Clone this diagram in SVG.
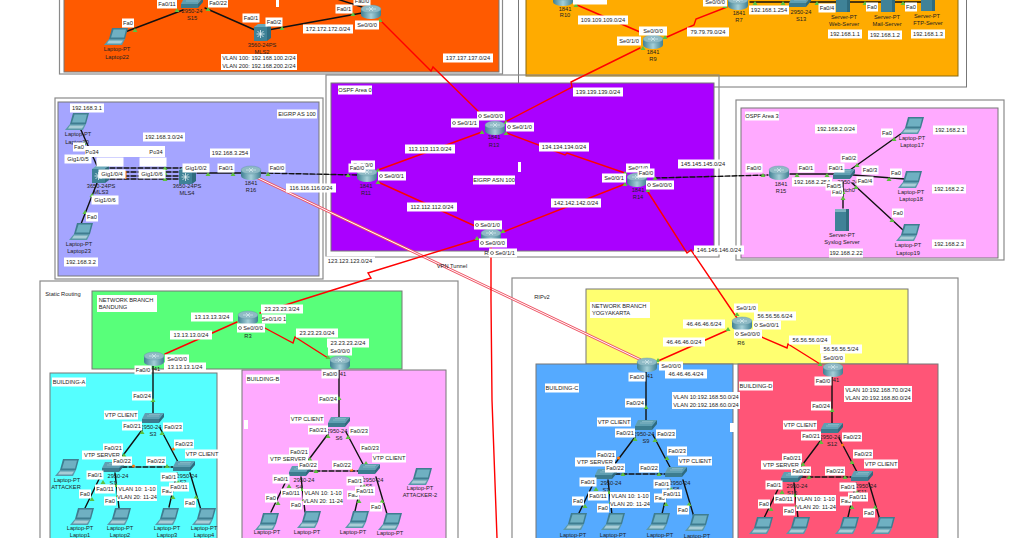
<svg xmlns="http://www.w3.org/2000/svg" width="1024" height="538" viewBox="0 0 1024 538">
<style>
text{font-family:"Liberation Sans",Arial,sans-serif;font-size:5.7px;fill:#222;text-anchor:middle}
.fr{fill:none;stroke:#8a8a8a;stroke-width:1.2}
.conn line,.conn polyline{fill:none;stroke-linecap:round}
.bk{stroke:#111;stroke-width:1.4}
.da{stroke:#111;stroke-width:1.4;stroke-dasharray:5 2}
.se{stroke:#f00;stroke-width:1.4}
.gl{fill:#5cc23e}
.og{fill:#ff7a10}
.ck{fill:none;stroke:#333;stroke-width:.6}
.lb{fill:#fff}
</style>
<defs>
<linearGradient id="rg" x1="0" x2="1" y1="0" y2="0"><stop offset="0" stop-color="#3f7f92"/><stop offset=".5" stop-color="#a5cfd8"/><stop offset="1" stop-color="#3f7f92"/></linearGradient>
<g id="rt"><path d="M-10-3v6a10 4 0 0 0 20 0v-6z" fill="url(#rg)"/><ellipse cy="-3" rx="10" ry="4" fill="#8fbac5" stroke="#5b95a5" stroke-width=".4"/><path d="M-5-3h10M-2-5l4 4M2-5l-4 4" stroke="#d8ecf0" stroke-width=".7" fill="none"/></g>
<g id="sw"><path d="M-8-5H11L6 1H-11z" fill="#5f9fb2"/><path d="M-11 1H6V5H-11z" fill="#3c7c8f"/><path d="M6 1L11-5V-1L6 5z" fill="#2f6b7e"/><path d="M-6-2H6M-4-3.500H7" stroke="#bcd9e0" stroke-width=".4"/></g>
<g id="ml"><path d="M-8-6H5V8H-8z" fill="#3f8297"/><path d="M-8-6L-4-9H9L5-6z" fill="#6aa8ba"/><path d="M5-6L9-9V5L5 8z" fill="#2f6b7e"/><path d="M-1.500-3V5M-5.500 1H2.500M-4.500-2L1.500 4M-4.500 4L1.500-2" stroke="#e4f1f4" stroke-width=".8"/></g>
<g id="lp"><path d="M-4-9H12L9 2H-7z" fill="#3f7d90"/><path d="M-2.500-7.500H10L8 .5H-5z" fill="#6fb0c2"/><path d="M-7 2H9L6 8H-12z" fill="#5a98aa"/><path d="M-7 3.500H7L5 6.500H-9z" fill="#a8cdd6"/></g>
<g id="sv"><path d="M-7-11H7V11H-7z" fill="#3f8297"/><path d="M-7-11H7V-8H-7z" fill="#7fb2c1"/><path d="M4-11H7V11H4z" fill="#2f6b7e"/></g>
<rect id="a" class="lb" x="-6" y="-4.500" width="12" height="9"/>
<rect id="b" class="lb" x="-8.500" y="-4.500" width="17" height="9"/>
<rect id="c" class="lb" x="-10" y="-4.500" width="20" height="9"/>
<rect id="d" class="lb" x="-12" y="-4.500" width="24" height="9"/>
<rect id="e" class="lb" x="-13.500" y="-4.500" width="27" height="9"/>
<rect id="f" class="lb" x="-17" y="-4.500" width="34" height="9"/>
<rect id="g" class="lb" x="-20" y="-4.500" width="40" height="9"/>
<rect id="h" class="lb" x="-21" y="-4.500" width="42" height="9"/>
<rect id="i" class="lb" x="-25" y="-4.500" width="50" height="9"/>
<rect id="k" class="lb" x="-14" y="-4.500" width="28" height="9"/>
</defs>
<rect width="1024" height="538" fill="#fff"/>

<g id="areas">
<rect class="fr" x="59.500" y="-5" width="443" height="79"/>
<rect x="64" y="-5" width="435" height="77" fill="#ff5a00" stroke="#777"/>
<rect x="518.500" y="-5" width="448" height="92" fill="none" stroke="#777"/>
<rect x="526" y="-5" width="432" height="81" fill="#ffab00" stroke="#8a6a10"/>
<rect class="fr" x="326" y="75" width="393" height="182"/>
<rect x="331" y="83" width="383" height="168" fill="#aa00ff" stroke="#777"/>
<rect class="fr" x="55" y="98" width="268" height="181"/>
<rect x="58" y="102" width="261" height="174" fill="#a5a5ff" stroke="#777"/>
<rect class="fr" x="736" y="100" width="268" height="160"/>
<rect x="741" y="108" width="257" height="150" fill="#ffaaff" stroke="#777"/>
<rect class="fr" x="40" y="281" width="418" height="270"/>
<rect x="92" y="291" width="310" height="78" fill="#58ff7a" stroke="#777"/>
<rect x="50" y="373" width="167" height="180" fill="#55ffff" stroke="#777"/>
<rect x="242" y="370" width="204" height="180" fill="#ffaaff" stroke="#777"/>
<rect class="fr" x="512" y="278" width="446" height="270"/>
<rect x="586" y="289" width="322" height="75" fill="#ffff70" stroke="#777"/>
<rect x="536" y="364" width="197" height="190" fill="#55aaff" stroke="#777"/>
<rect x="738" y="364" width="200" height="190" fill="#ff5577" stroke="#777"/>
<rect class="lb" x="276" y="-1" width="3" height="8"/>
<rect class="lb" x="518" y="162" width="3" height="10"/>
<rect class="lb" x="244" y="420" width="4" height="9"/>
<rect class="lb" x="730" y="423" width="4" height="9"/>
</g>

<g id="connectors" class="conn">
<line class="bk" x1="125" y1="32" x2="183" y2="10"/>
<line class="bk" x1="205" y1="8" x2="255" y2="30"/>
<line class="bk" x1="268" y1="30" x2="362" y2="13"/>
<line class="bk" x1="337" y1="-1" x2="362" y2="7"/>
<polyline class="se" points="380,20 431,71 433,67 480,113"/>
<polyline class="se" points="505,122 572,87 571,82 640,48"/>
<line class="se" x1="640" y1="32" x2="577" y2="5"/>
<polyline class="se" points="667,37 694,25 696,19 727,7"/>
<line class="bk" x1="750" y1="2" x2="790" y2="2"/>
<line class="bk" x1="810" y1="2" x2="925" y2="2"/>
<line class="bk" x1="81" y1="130" x2="98" y2="168"/>
<line class="bk" x1="97" y1="183" x2="81" y2="224"/>
<line class="da" x1="103" y1="168" x2="182" y2="168"/>
<line class="da" x1="103" y1="172" x2="182" y2="172"/>
<line class="da" x1="103" y1="176" x2="182" y2="176"/>
<line class="da" x1="103" y1="179" x2="182" y2="179"/>
<line class="bk" x1="197" y1="173" x2="241" y2="173"/>
<line class="da" x1="261" y1="173" x2="358" y2="175"/>
<line x1="257" y1="177.500" x2="640" y2="359.500" stroke="#ee5566" stroke-width="2.800"/>
<line x1="257" y1="177.500" x2="640" y2="359.500" stroke="#fff" stroke-width="1"/>
<line class="se" x1="378" y1="170" x2="482" y2="132"/>
<polyline class="se" points="507,133 565,155 567,153 625,173"/>
<line class="se" x1="378" y1="182" x2="475" y2="226"/>
<line class="se" x1="503" y1="232" x2="625" y2="184"/>
<polyline class="se" points="478,239 368,273 371,278 260,313"/>
<polyline class="se" points="491,245 491,300 492,400 497,538"/>
<polyline class="se" points="648,192 687,253 691,250 737,318"/>
<line class="da" x1="655" y1="178" x2="768" y2="175"/>
<line class="bk" x1="790" y1="174" x2="835" y2="174"/>
<line class="bk" x1="850" y1="170" x2="902" y2="133"/>
<line class="bk" x1="853" y1="175" x2="905" y2="179"/>
<line class="bk" x1="852" y1="183" x2="903" y2="230"/>
<line class="bk" x1="843" y1="182" x2="843" y2="208"/>
<line class="se" x1="165" y1="354" x2="237" y2="322"/>
<polyline class="se" points="263,327 293,343 295,337 328,358"/>
<line class="se" x1="658" y1="361" x2="728" y2="330"/>
<polyline class="se" points="750,332 787,348 788,344 820,364"/>
<line class="bk" x1="153" y1="366" x2="153" y2="413"/>
<line class="bk" x1="339" y1="370" x2="339" y2="417"/>
<line class="bk" x1="646" y1="372" x2="646" y2="420"/>
<line class="bk" x1="832" y1="377" x2="832" y2="423"/>
<line class="bk" x1="142" y1="430" x2="118" y2="462"/><line class="bk" x1="160" y1="428" x2="178" y2="462"/><line class="da" x1="122" y1="467" x2="173" y2="467"/><line class="bk" x1="102" y1="473" x2="85" y2="508"/><line class="bk" x1="115" y1="473" x2="119" y2="508"/><line class="bk" x1="177" y1="473" x2="169" y2="507"/><line class="bk" x1="190" y1="473" x2="201" y2="510"/>
<line class="bk" x1="328" y1="434" x2="304" y2="466"/><line class="bk" x1="346" y1="432" x2="364" y2="466"/><line class="da" x1="308" y1="471" x2="359" y2="471"/><line class="bk" x1="288" y1="477" x2="271" y2="512"/><line class="bk" x1="301" y1="477" x2="305" y2="512"/><line class="bk" x1="363" y1="477" x2="355" y2="511"/><line class="bk" x1="376" y1="477" x2="387" y2="514"/>
<line class="bk" x1="635" y1="437" x2="611" y2="469"/><line class="bk" x1="653" y1="435" x2="671" y2="469"/><line class="da" x1="615" y1="474" x2="666" y2="474"/><line class="bk" x1="595" y1="480" x2="578" y2="515"/><line class="bk" x1="608" y1="480" x2="612" y2="515"/><line class="bk" x1="670" y1="480" x2="662" y2="514"/><line class="bk" x1="683" y1="480" x2="694" y2="517"/>
<line class="bk" x1="821" y1="440" x2="797" y2="472"/><line class="bk" x1="839" y1="438" x2="857" y2="472"/><line class="da" x1="801" y1="477" x2="852" y2="477"/><line class="bk" x1="781" y1="483" x2="764" y2="518"/><line class="bk" x1="794" y1="483" x2="798" y2="518"/><line class="bk" x1="856" y1="483" x2="848" y2="517"/><line class="bk" x1="869" y1="483" x2="880" y2="520"/>
<path class="gl" d="M135 28l2.500 4h-5zM177 8l2.500 4h-5zM208 7l2.500 4h-5zM282 26l2.500 4h-5zM353 12l2.500 4h-5zM380 18l2.500 4h-5zM262 26l2.500 4h-5zM576 3l2.500 4h-5zM643 46l2.500 4h-5zM665 35l2.500 4h-5zM725 4l2.500 4h-5zM755 1l2.500 4h-5zM783 1l2.500 4h-5zM817 1l2.500 4h-5zM865 1l2.500 4h-5zM903 1l2.500 4h-5zM84 141l2.500 4h-5zM92 193l2.500 4h-5zM85 210l2.500 4h-5zM165 166l2.500 4h-5zM165 171l2.500 4h-5zM165 177l2.500 4h-5zM208 172l2.500 4h-5zM233 172l2.500 4h-5zM268 172l2.500 4h-5zM348 173l2.500 4h-5zM378 168l2.500 4h-5zM378 180l2.500 4h-5zM482 130l2.500 4h-5zM506 120l2.500 4h-5zM506 131l2.500 4h-5zM625 171l2.500 4h-5zM625 182l2.500 4h-5zM655 176l2.500 4h-5zM648 188l2.500 4h-5zM477 236l2.500 4h-5zM476 224l2.500 4h-5zM503 229l2.500 4h-5zM763 173l2.500 4h-5zM797 173l2.500 4h-5zM827 173l2.500 4h-5zM857 163l2.500 4h-5zM894 137l2.500 4h-5zM889 177l2.500 4h-5zM856 185l2.500 4h-5zM892 218l2.500 4h-5zM843 190l2.500 4h-5zM843 196l2.500 4h-5zM737 312l2.500 4h-5zM728 327l2.500 4h-5zM658 358l2.500 4h-5zM820 362l2.500 4h-5zM328 355l2.500 4h-5zM153 398l2.500 4h-5zM339 396l2.500 4h-5zM646 405l2.500 4h-5zM832 408l2.500 4h-5z"/>
<path class="gl" d="M142 430l2.500 4h-5zM162 431l2.500 4h-5zM124 453l2.500 4h-5zM167 464l2.500 4h-5zM103 480l2.500 4h-5zM92 497l2.500 4h-5zM116 483l2.500 4h-5zM118 493l2.500 4h-5zM173 495l2.500 4h-5zM178 480l2.500 4h-5zM196 495l2.500 4h-5z"/>
<path class="gl" d="M328 434l2.500 4h-5zM348 435l2.500 4h-5zM310 457l2.500 4h-5zM316 469l2.500 4h-5zM366 461l2.500 4h-5zM289 484l2.500 4h-5zM278 501l2.500 4h-5zM302 487l2.500 4h-5zM304 497l2.500 4h-5zM359 499l2.500 4h-5zM364 484l2.500 4h-5zM382 499l2.500 4h-5z"/>
<path class="gl" d="M635 437l2.500 4h-5zM655 438l2.500 4h-5zM623 472l2.500 4h-5zM659 472l2.500 4h-5zM667 456l2.500 4h-5zM596 487l2.500 4h-5zM585 504l2.500 4h-5zM609 490l2.500 4h-5zM611 500l2.500 4h-5zM666 502l2.500 4h-5zM671 487l2.500 4h-5zM689 502l2.500 4h-5z"/>
<path class="gl" d="M821 440l2.500 4h-5zM803 462l2.500 4h-5zM809 475l2.500 4h-5zM845 475l2.500 4h-5zM852 460l2.500 4h-5zM782 490l2.500 4h-5zM771 507l2.500 4h-5zM795 493l2.500 4h-5zM797 503l2.500 4h-5zM852 505l2.500 4h-5zM857 490l2.500 4h-5zM875 505l2.500 4h-5z"/>
<path class="og" d="M125 171h1.500v8h-1.500zM172 449a1.500 1.500 0 1 0 3 0a1.500 1.500 0 1 0-3 0M132 466a1.500 1.500 0 1 0 3 0a1.500 1.500 0 1 0-3 0M350 470a1.500 1.500 0 1 0 3 0a1.500 1.500 0 1 0-3 0M617 458a1.500 1.500 0 1 0 3 0a1.500 1.500 0 1 0-3 0M841 445a1.500 1.500 0 1 0 3 0a1.500 1.500 0 1 0-3 0"/>
</g>

<g id="nodes">
<g id="Laptop22"><use href="#lp" x="116" y="37"/><text x="117" y="51">Laptop-PT</text><text x="117" y="59">Laptop22</text></g>
<g id="S15"><use href="#sw" x="192" y="3"/><text x="192" y="13">2950-24</text><text x="192" y="20">S15</text></g>
<g id="MLS2"><use href="#ml" x="262" y="33"/><text x="262" y="47">3560-24PS</text><text x="262" y="54">MLS2</text></g>
<g id="R12"><use href="#rt" x="371" y="12"/></g>
<g id="R10"><use href="#rt" x="563" y="-1"/><text x="565" y="11">1841</text><text x="565" y="17">R10</text></g>
<g id="R9"><use href="#rt" x="653" y="42"/><text x="653" y="54">1841</text><text x="653" y="61">R9</text></g>
<g id="R7"><use href="#rt" x="738" y="3"/><text x="739" y="15">1841</text><text x="739" y="22">R7</text></g>
<g id="S13"><use href="#sw" x="800" y="2"/><text x="801" y="14">2950-24</text><text x="801" y="21">S13</text></g>
<g id="Web-Server"><use href="#sv" x="843" y="1"/><text x="844" y="19">Server-PT</text><text x="844" y="26">Web-Server</text></g>
<g id="Mail-Server"><use href="#sv" x="888" y="1"/><text x="887" y="19">Server-PT</text><text x="887" y="26">Mail-Server</text></g>
<g id="FTP-Server"><use href="#sv" x="928" y="0"/><text x="927" y="18">Server-PT</text><text x="928" y="25">FTP-Server</text></g>
<g id="Laptop20"><use href="#lp" x="77" y="122"/><text x="78" y="136">Laptop-PT</text><text x="77" y="144">Laptop20</text></g>
<g id="MLS3"><use href="#ml" x="100" y="175"/><text x="101" y="188">3650-24PS</text><text x="101" y="194">MLS3</text></g>
<g id="MLS4"><use href="#ml" x="187" y="176"/><text x="187" y="188">3650-24PS</text><text x="187" y="195">MLS4</text></g>
<g id="R16"><use href="#rt" x="251" y="173"/><text x="251" y="185">1841</text><text x="251" y="192">R16</text></g>
<g id="Laptop23"><use href="#lp" x="81" y="232"/><text x="79" y="246">Laptop-PT</text><text x="79" y="253">Laptop23</text></g>
<g id="R11"><use href="#rt" x="367" y="175"/><text x="366" y="188">1841</text><text x="366" y="195">R11</text></g>
<g id="R13"><use href="#rt" x="495" y="128"/><text x="494" y="139">1841</text><text x="494" y="147">R13</text></g>
<g id="R14"><use href="#rt" x="637" y="180"/><text x="638" y="192">1841</text><text x="638" y="199">R14</text></g>
<g id="R5"><use href="#rt" x="491" y="236"/><text x="488" y="255">R5</text></g>
<g id="R15"><use href="#rt" x="779" y="173"/><text x="781" y="186">1841</text><text x="781" y="193">R15</text></g>
<g id="Switch0"><use href="#sw" x="844" y="174"/><text x="848" y="184">2950-24</text><text x="845" y="192">Switch0</text></g>
<g id="Laptop17"><use href="#lp" x="912" y="126"/><text x="912" y="140">Laptop-PT</text><text x="912" y="147">Laptop17</text></g>
<g id="Laptop18"><use href="#lp" x="910" y="180"/><text x="911" y="194">Laptop-PT</text><text x="911" y="201">Laptop18</text></g>
<g id="Laptop19"><use href="#lp" x="908" y="233"/><text x="908" y="247">Laptop-PT</text><text x="908" y="255">Laptop19</text></g>
<g id="Syslog"><use href="#sv" x="842" y="220"/><text x="842" y="237">Server-PT</text><text x="842" y="244">Syslog Server</text></g>
<g id="R3"><use href="#rt" x="248" y="318"/><text x="248" y="338">R3</text></g>
<g id="R1"><use href="#rt" x="154" y="359"/><text x="157" y="371">41</text></g>
<g id="R2"><use href="#rt" x="340" y="363"/><text x="343" y="376">41</text></g>
<g id="R6"><use href="#rt" x="742" y="324"/><text x="741" y="345">R6</text></g>
<g id="R4"><use href="#rt" x="647" y="365"/><text x="650" y="378">41</text></g>
<g id="R8"><use href="#rt" x="833" y="370"/><text x="836" y="382">41</text></g>

<g id="S3"><use href="#sw" x="153" y="418"/><text x="151" y="429">2950-24</text><text x="153" y="436">S3</text></g>
<g id="S1"><use href="#sw" x="113" y="467"/><text x="118" y="478">2950-24</text><text x="113" y="485">S1</text></g>
<g id="S2"><use href="#sw" x="184" y="466"/><text x="187" y="478">2950-24</text><text x="183" y="484">S2</text></g>
<g id="ATTACKER"><use href="#lp" x="67" y="468"/><text x="67" y="482">Laptop-PT</text><text x="66" y="489">ATTACKER</text></g>
<g id="Laptop1"><use href="#lp" x="82" y="517"/><text x="80" y="530">Laptop-PT</text><text x="80" y="537">Laptop1</text></g>
<g id="Laptop2"><use href="#lp" x="119" y="517"/><text x="120" y="530">Laptop-PT</text><text x="120" y="537">Laptop2</text></g>
<g id="Laptop3"><use href="#lp" x="167" y="517"/><text x="167" y="530">Laptop-PT</text><text x="167" y="537">Laptop3</text></g>
<g id="Laptop4"><use href="#lp" x="204" y="517"/><text x="204" y="530">Laptop-PT</text><text x="204" y="537">Laptop4</text></g>

<g id="S6"><use href="#sw" x="339" y="422"/><text x="337" y="433">2950-24</text><text x="339" y="440">S6</text></g>
<g id="S4"><use href="#sw" x="300" y="471"/><text x="304" y="482">2950-24</text><text x="299" y="489">S4</text></g>
<g id="S5"><use href="#sw" x="369" y="469"/><text x="373" y="482">2950-24</text><text x="369" y="488">S5</text></g>
<g id="ATTACKER-2"><use href="#lp" x="420" y="477"/><text x="420" y="490">Laptop-PT</text><text x="420" y="497">ATTACKER-2</text></g>
<g id="Laptop5"><use href="#lp" x="267" y="522"/><text x="267" y="534">Laptop-PT</text></g>
<g id="Laptop6"><use href="#lp" x="309" y="520"/><text x="307" y="534">Laptop-PT</text></g>
<g id="Laptop7"><use href="#lp" x="357" y="520"/><text x="353" y="534">Laptop-PT</text></g>
<g id="Laptop8"><use href="#lp" x="390" y="522"/><text x="390" y="535">Laptop-PT</text></g>

<g id="S9"><use href="#sw" x="646" y="425"/><text x="644" y="436">2950-24</text><text x="646" y="443">S9</text></g>
<g id="S7"><use href="#sw" x="606" y="474"/><text x="611" y="485">2950-24</text><text x="606" y="492">S7</text></g>
<g id="S8"><use href="#sw" x="676" y="472"/><text x="680" y="485">2950-24</text><text x="676" y="491">S8</text></g>
<g id="Laptop9"><use href="#lp" x="575" y="522"/><text x="573" y="537">Laptop-PT</text></g>
<g id="Laptop10"><use href="#lp" x="613" y="522"/><text x="613" y="537">Laptop-PT</text></g>
<g id="Laptop11"><use href="#lp" x="658" y="522"/><text x="660" y="537">Laptop-PT</text></g>
<g id="Laptop12"><use href="#lp" x="697" y="523"/><text x="697" y="538">Laptop-PT</text></g>

<g id="S12"><use href="#sw" x="832" y="428"/><text x="830" y="439">2950-24</text><text x="832" y="446">S12</text></g>
<g id="S10"><use href="#sw" x="792" y="477"/><text x="797" y="488">2950-24</text><text x="792" y="495">S10</text></g>
<g id="S11"><use href="#sw" x="862" y="476"/><text x="866" y="488">2950-24</text><text x="862" y="494">S11</text></g>
<g id="Laptop13"><use href="#lp" x="761" y="526"/></g>
<g id="Laptop14"><use href="#lp" x="798" y="526"/></g>
<g id="Laptop15"><use href="#lp" x="847" y="526"/></g>
<g id="Laptop16"><use href="#lp" x="883" y="526"/></g>
</g>

<g id="labels">
<g transform="translate(128 23)"><use href="#a"/><text y="2">Fa0</text></g>
<g transform="translate(167 4)"><use href="#c"/><text y="2">Fa0/11</text></g>
<g transform="translate(218 3)"><use href="#c"/><text y="2">Fa0/22</text></g>
<g transform="translate(251 18)"><use href="#b"/><text y="2">Fa0/1</text></g>
<g transform="translate(274 22)"><use href="#b"/><text y="2">Fa0/2</text></g>
<g transform="translate(328 29)"><use href="#i"/><text y="2">172.172.172.0/24</text></g>
<g transform="translate(362 1)"><use href="#b"/><text y="2">Fa0/0</text></g>
<g transform="translate(344 9)"><use href="#b"/><text y="2">Fa0/1</text></g>
<g transform="translate(367 25)"><use href="#d"/><text y="2">Se0/0/0</text></g>
<g transform="translate(259 62)"><rect class="lb" x="-38" y="-8" width="76" height="16"/><text y="-2">VLAN 100: 192.168.100.2/24</text><text y="6">VLAN 200: 192.168.200.2/24</text></g>
<g transform="translate(468 58)"><use href="#i"/><text y="2">137.137.137.0/24</text></g>
<g transform="translate(603 20)"><use href="#i"/><text y="2">109.109.109.0/24</text></g>
<g transform="translate(590 0)"><use href="#f"/></g>
<g transform="translate(653 31)"><use href="#k"/><text y="2">Se0/0/0</text></g>
<g transform="translate(629 41)"><use href="#d"/><text y="2">Se0/1/0</text></g>
<g transform="translate(708 32)"><use href="#h"/><text y="2">79.79.79.0/24</text></g>
<g transform="translate(715 2)"><use href="#d"/><text y="2">Se0/0/0</text></g>
<g transform="translate(769 10)"><use href="#g"/><text y="2">192.168.1.254</text></g>
<g transform="translate(827 8)"><use href="#b"/><text y="2">Fa0/4</text></g>
<g transform="translate(872 7)"><use href="#a"/><text y="2">Fa0</text></g>
<g transform="translate(911 7)"><use href="#a"/><text y="2">Fa0</text></g>
<g transform="translate(845 34)"><use href="#f"/><text y="2">192.168.1.1</text></g>
<g transform="translate(885 35)"><use href="#f"/><text y="2">192.168.1.2</text></g>
<g transform="translate(928 34)"><use href="#f"/><text y="2">192.168.1.3</text></g>

<g transform="translate(87 108)"><use href="#f"/><text y="2">192.168.3.1</text></g>
<g transform="translate(164 137)"><use href="#h"/><text y="2">192.168.3.0/24</text></g>
<g transform="translate(297 114)"><use href="#g"/><text y="2">EIGRP AS 100</text></g>
<g transform="translate(125 151.500)"><rect class="lb" x="-40" y="-5.500" width="80" height="11"/><text x="-33" y="2">Po34</text><text x="31" y="2">Po34</text></g>
<g transform="translate(79 147)"><use href="#a"/><text y="2">Fa0</text></g>
<g transform="translate(78 159)"><use href="#e"/><text y="2">Gig1/0/5</text></g>
<g transform="translate(110 162)"><use href="#e"/></g>
<g transform="translate(153 162)"><use href="#e"/></g>
<g transform="translate(112 174)"><use href="#e"/><text y="2">Gig1/0/4</text></g>
<g transform="translate(152 174)"><use href="#e"/><text y="2">Gig1/0/6</text></g>
<g transform="translate(196 168)"><use href="#e"/><text y="2">Gig1/0/2</text></g>
<g transform="translate(226 168)"><use href="#b"/><text y="2">Fa0/1</text></g>
<g transform="translate(277 168)"><use href="#b"/><text y="2">Fa0/0</text></g>
<g transform="translate(230 153)"><use href="#g"/><text y="2">192.168.3.254</text></g>
<g transform="translate(105 200)"><use href="#e"/><text y="2">Gig1/0/6</text></g>
<g transform="translate(92 217)"><use href="#a"/><text y="2">Fa0</text></g>
<g transform="translate(81 262)"><use href="#f"/><text y="2">192.168.3.2</text></g>
<g transform="translate(311 188)"><use href="#i"/><text y="2">116.116.116.0/24</text></g>

<g transform="translate(355 90)"><use href="#f"/><text y="2">OSPF Area 0</text></g>
<g transform="translate(494 180)"><use href="#h"/><text y="2">EIGRP ASN 100</text></g>
<g transform="translate(491 116)"><use href="#k"/><circle class="ck" cx="-11" r="1.500"/><text x="2" y="2">Se0/0/0</text></g>
<g transform="translate(465 123)"><use href="#k"/><circle class="ck" cx="-11" r="1.500"/><text x="2" y="2">Se0/1/1</text></g>
<g transform="translate(520 127)"><use href="#k"/><circle class="ck" cx="-11" r="1.500"/><text x="2" y="2">Se0/1/0</text></g>
<g transform="translate(430 149)"><use href="#i"/><text y="2">113.113.113.0/24</text></g>
<g transform="translate(564 147)"><use href="#i"/><text y="2">134.134.134.0/24</text></g>
<g transform="translate(598 92)"><use href="#i"/><text y="2">139.139.139.0/24</text></g>
<g transform="translate(363 165)"><use href="#d"/><text y="2">Se0/0/0</text></g>
<g transform="translate(357 168)"><use href="#b"/><text y="2">Fa0/0</text></g>
<g transform="translate(392 176)"><use href="#k"/><circle class="ck" cx="-11" r="1.500"/><text x="2" y="2">Se0/0/1</text></g>
<g transform="translate(432 207)"><use href="#i"/><text y="2">112.112.112.0/24</text></g>
<g transform="translate(576 203)"><use href="#i"/><text y="2">142.142.142.0/24</text></g>
<g transform="translate(638 168)"><use href="#d"/><text y="2">Se0/1/0</text></g>
<g transform="translate(646 173)"><use href="#b"/><text y="2">Fa0/0</text></g>
<g transform="translate(614 178)"><use href="#d"/><text y="2">Se0/0/1</text></g>
<g transform="translate(660 185)"><use href="#k"/><circle class="ck" cx="-11" r="1.500"/><text x="2" y="2">Se0/0/0</text></g>
<g transform="translate(703 164)"><use href="#i"/><text y="2">145.145.145.0/24</text></g>
<g transform="translate(719 250)"><use href="#i"/><text y="2">146.146.146.0/24</text></g>
<g transform="translate(488 225)"><use href="#k"/><circle class="ck" cx="-11" r="1.500"/><text x="2" y="2">Se0/1/0</text></g>
<g transform="translate(493 243)"><use href="#k"/><circle class="ck" cx="-11" r="1.500"/><text x="2" y="2">Se0/0/0</text></g>
<g transform="translate(503 253)"><use href="#k"/><circle class="ck" cx="-11" r="1.500"/><text x="2" y="2">Se0/1/1</text></g>
<g transform="translate(350 261)"><use href="#i"/><text y="2">123.123.123.0/24</text></g>
<text x="452" y="268">VPN Tunnel</text>

<g transform="translate(762 116)"><use href="#f"/><text y="2">OSPF Area 3</text></g>
<g transform="translate(836 129)"><use href="#h"/><text y="2">192.168.2.0/24</text></g>
<g transform="translate(950 130)"><use href="#f"/><text y="2">192.168.2.1</text></g>
<g transform="translate(949 189)"><use href="#f"/><text y="2">192.168.2.2</text></g>
<g transform="translate(949 244)"><use href="#f"/><text y="2">192.168.2.3</text></g>
<g transform="translate(846 253)"><use href="#f"/><text y="2">192.168.2.22</text></g>
<g transform="translate(754 168)"><use href="#b"/><text y="2">Fa0/0</text></g>
<g transform="translate(806 168)"><use href="#b"/><text y="2">Fa0/1</text></g>
<g transform="translate(812 182)"><use href="#g"/><text y="2">192.168.2.254</text></g>
<g transform="translate(836 168)"><use href="#b"/><text y="2">Fa0/1</text></g>
<g transform="translate(837 192)"><use href="#a"/><text y="2">Fa0</text></g>
<g transform="translate(834 186)"><use href="#b"/><text y="2">Fa0/5</text></g>
<g transform="translate(849 158)"><use href="#b"/><text y="2">Fa0/2</text></g>
<g transform="translate(870 170)"><use href="#b"/><text y="2">Fa0/3</text></g>
<g transform="translate(865 181)"><use href="#b"/><text y="2">Fa0/4</text></g>
<g transform="translate(887 133)"><use href="#a"/><text y="2">Fa0</text></g>
<g transform="translate(896 173)"><use href="#a"/><text y="2">Fa0</text></g>
<g transform="translate(898 213)"><use href="#a"/><text y="2">Fa0</text></g>

<text x="63" y="296">Static Routing</text>
<g transform="translate(127 303.500)"><rect class="lb" x="-30" y="-8.500" width="60" height="17"/><text x="-1" y="-1.500">NETWORK BRANCH</text><text x="-14" y="5.500">BANDUNG</text></g>
<g transform="translate(212 317)"><use href="#h"/><text y="2">13.13.13.3/24</text></g>
<g transform="translate(282 309)"><use href="#h"/><text y="2">23.23.23.3/24</text></g>
<g transform="translate(274 319)"><use href="#d"/><text y="2">Se0/1/0 1</text></g>
<g transform="translate(251 328)"><use href="#k"/><circle class="ck" cx="-11" r="1.500"/><text x="2" y="2">Se0/0/0</text></g>
<g transform="translate(191 335)"><use href="#h"/><text y="2">13.13.13.0/24</text></g>
<g transform="translate(317 333)"><use href="#h"/><text y="2">23.23.23.0/24</text></g>
<g transform="translate(348 343)"><use href="#h"/><text y="2">23.23.23.2/24</text></g>
<g transform="translate(340 351)"><use href="#d"/><text y="2">Se0/0/0</text></g>
<g transform="translate(177 359)"><use href="#d"/><text y="2">Se0/0/0</text></g>
<g transform="translate(185 367)"><use href="#h"/><text y="2">13.13.13.1/24</text></g>
<g transform="translate(143 370)"><use href="#b"/><text y="2">Fa0/0</text></g>
<g transform="translate(330 374)"><use href="#b"/><text y="2">Fa0/0</text></g>
<g transform="translate(69 382)"><use href="#f"/><text y="2">BUILDING-A</text></g>
<g transform="translate(263 379)"><use href="#f"/><text y="2">BUILDING-B</text></g>

<g transform="translate(142 396)"><use href="#c"/><text y="2">Fa0/24</text></g>
<g transform="translate(121 415)"><use href="#f"/><text y="2">VTP CLIENT</text></g>
<g transform="translate(132 426)"><use href="#c"/><text y="2">Fa0/21</text></g>
<g transform="translate(173 427)"><use href="#c"/><text y="2">Fa0/23</text></g>
<g transform="translate(184 444)"><use href="#c"/><text y="2">Fa0/23</text></g>
<g transform="translate(202 454)"><use href="#f"/><text y="2">VTP CLIENT</text></g>
<g transform="translate(102 455)"><use href="#g"/><text y="2">VTP SERVER</text></g>
<g transform="translate(113 448)"><use href="#c"/><text y="2">Fa0/21</text></g>
<g transform="translate(122 461)"><use href="#c"/><text y="2">Fa0/22</text></g>
<g transform="translate(156 461)"><use href="#c"/><text y="2">Fa0/22</text></g>
<g transform="translate(95 475)"><use href="#b"/><text y="2">Fa0/1</text></g>
<g transform="translate(169 477)"><use href="#b"/><text y="2">Fa0/1</text></g>
<g transform="translate(105 489)"><use href="#c"/><text y="2">Fa0/11</text></g>
<g transform="translate(167 491)"><use href="#a"/><text y="2">Fa0</text></g>
<g transform="translate(179 487)"><use href="#c"/><text y="2">Fa0/11</text></g>
<g transform="translate(85 494)"><use href="#a"/><text y="2">Fa0</text></g>
<g transform="translate(110 501)"><use href="#a"/><text y="2">Fa0</text></g>
<g transform="translate(190 503)"><use href="#a"/><text y="2">Fa0</text></g>
<g transform="translate(137 493)"><rect class="lb" x="-20" y="-8" width="40" height="16"/><text y="-2">VLAN 10: 1-10</text><text y="6">VLAN 20: 11-24</text></g>

<g transform="translate(328 399)"><use href="#c"/><text y="2">Fa0/24</text></g>
<g transform="translate(307 419)"><use href="#f"/><text y="2">VTP CLIENT</text></g>
<g transform="translate(318 430)"><use href="#c"/><text y="2">Fa0/21</text></g>
<g transform="translate(359 431)"><use href="#c"/><text y="2">Fa0/23</text></g>
<g transform="translate(370 448)"><use href="#c"/><text y="2">Fa0/23</text></g>
<g transform="translate(389 458)"><use href="#f"/><text y="2">VTP CLIENT</text></g>
<g transform="translate(288 459)"><use href="#g"/><text y="2">VTP SERVER</text></g>
<g transform="translate(299 452)"><use href="#c"/><text y="2">Fa0/21</text></g>
<g transform="translate(308 465)"><use href="#c"/><text y="2">Fa0/22</text></g>
<g transform="translate(342 465)"><use href="#c"/><text y="2">Fa0/22</text></g>
<g transform="translate(281 479)"><use href="#b"/><text y="2">Fa0/1</text></g>
<g transform="translate(355 481)"><use href="#b"/><text y="2">Fa0/1</text></g>
<g transform="translate(291 493)"><use href="#c"/><text y="2">Fa0/11</text></g>
<g transform="translate(353 495)"><use href="#a"/><text y="2">Fa0</text></g>
<g transform="translate(365 491)"><use href="#c"/><text y="2">Fa0/11</text></g>
<g transform="translate(271 498)"><use href="#a"/><text y="2">Fa0</text></g>
<g transform="translate(296 505)"><use href="#a"/><text y="2">Fa0</text></g>
<g transform="translate(376 507)"><use href="#a"/><text y="2">Fa0</text></g>
<g transform="translate(323 497)"><rect class="lb" x="-20" y="-8" width="40" height="16"/><text y="-2">VLAN 10: 1-10</text><text y="6">VLAN 20: 11-24</text></g>

<text x="542" y="299">RIPv2</text>
<g transform="translate(620 310)"><rect class="lb" x="-30" y="-8" width="60" height="16"/><text x="-1" y="-2">NETWORK BRANCH</text><text x="-9" y="5">YOGYAKARTA</text></g>
<g transform="translate(746 308)"><use href="#d"/><text y="2">Se0/1/0</text></g>
<g transform="translate(775 316)"><use href="#h"/><text y="2">56.56.56.6/24</text></g>
<g transform="translate(767 325)"><use href="#k"/><circle class="ck" cx="-11" r="1.500"/><text x="2" y="2">Se0/0/1</text></g>
<g transform="translate(748 334)"><use href="#k"/><circle class="ck" cx="-11" r="1.500"/><text x="2" y="2">Se0/0/0</text></g>
<g transform="translate(704 324)"><use href="#h"/><text y="2">46.46.46.6/24</text></g>
<g transform="translate(684 342)"><use href="#h"/><text y="2">46.46.46.0/24</text></g>
<g transform="translate(810 340)"><use href="#h"/><text y="2">56.56.56.0/24</text></g>
<g transform="translate(841 349)"><use href="#h"/><text y="2">56.56.56.5/24</text></g>
<g transform="translate(833 358)"><use href="#d"/><text y="2">Se0/0/0</text></g>
<g transform="translate(671 366)"><use href="#d"/><text y="2">Se0/0/0</text></g>
<g transform="translate(686 374)"><use href="#h"/><text y="2">46.46.46.4/24</text></g>
<g transform="translate(637 377)"><use href="#b"/><text y="2">Fa0/0</text></g>
<g transform="translate(823 381)"><use href="#b"/><text y="2">Fa0/0</text></g>
<g transform="translate(562 388)"><use href="#f"/><text y="2">BUILDING-C</text></g>
<g transform="translate(756 386)"><use href="#f"/><text y="2">BUILDING-D</text></g>
<g transform="translate(706 400.500)"><rect class="lb" x="-34" y="-8.500" width="68" height="17"/><text y="-2">VLAN 10:192.168.50.0/24</text><text y="6">VLAN 20:192.168.60.0/24</text></g>
<g transform="translate(878 394)"><rect class="lb" x="-34" y="-8" width="68" height="16"/><text y="-2">VLAN 10:192.168.70.0/24</text><text y="6">VLAN 20:192.168.80.0/24</text></g>

<g transform="translate(635 403)"><use href="#c"/><text y="2">Fa0/24</text></g>
<g transform="translate(614 422)"><use href="#f"/><text y="2">VTP CLIENT</text></g>
<g transform="translate(625 433)"><use href="#c"/><text y="2">Fa0/21</text></g>
<g transform="translate(666 434)"><use href="#c"/><text y="2">Fa0/23</text></g>
<g transform="translate(677 451)"><use href="#c"/><text y="2">Fa0/23</text></g>
<g transform="translate(695 461)"><use href="#f"/><text y="2">VTP CLIENT</text></g>
<g transform="translate(595 462)"><use href="#g"/><text y="2">VTP SERVER</text></g>
<g transform="translate(606 455)"><use href="#c"/><text y="2">Fa0/21</text></g>
<g transform="translate(615 468)"><use href="#c"/><text y="2">Fa0/22</text></g>
<g transform="translate(649 468)"><use href="#c"/><text y="2">Fa0/22</text></g>
<g transform="translate(588 482)"><use href="#b"/><text y="2">Fa0/1</text></g>
<g transform="translate(662 484)"><use href="#b"/><text y="2">Fa0/1</text></g>
<g transform="translate(598 496)"><use href="#c"/><text y="2">Fa0/11</text></g>
<g transform="translate(660 498)"><use href="#a"/><text y="2">Fa0</text></g>
<g transform="translate(672 494)"><use href="#c"/><text y="2">Fa0/11</text></g>
<g transform="translate(578 501)"><use href="#a"/><text y="2">Fa0</text></g>
<g transform="translate(603 508)"><use href="#a"/><text y="2">Fa0</text></g>
<g transform="translate(683 510)"><use href="#a"/><text y="2">Fa0</text></g>
<g transform="translate(630 500)"><rect class="lb" x="-20" y="-8" width="40" height="16"/><text y="-2">VLAN 10: 1-10</text><text y="6">VLAN 20: 11-24</text></g>

<g transform="translate(821 406)"><use href="#c"/><text y="2">Fa0/24</text></g>
<g transform="translate(800 425)"><use href="#f"/><text y="2">VTP CLIENT</text></g>
<g transform="translate(811 436)"><use href="#c"/><text y="2">Fa0/21</text></g>
<g transform="translate(852 437)"><use href="#c"/><text y="2">Fa0/23</text></g>
<g transform="translate(863 454)"><use href="#c"/><text y="2">Fa0/23</text></g>
<g transform="translate(881 464)"><use href="#f"/><text y="2">VTP CLIENT</text></g>
<g transform="translate(781 465)"><use href="#g"/><text y="2">VTP SERVER</text></g>
<g transform="translate(792 458)"><use href="#c"/><text y="2">Fa0/21</text></g>
<g transform="translate(801 471)"><use href="#c"/><text y="2">Fa0/22</text></g>
<g transform="translate(835 471)"><use href="#c"/><text y="2">Fa0/22</text></g>
<g transform="translate(774 485)"><use href="#b"/><text y="2">Fa0/1</text></g>
<g transform="translate(848 487)"><use href="#b"/><text y="2">Fa0/1</text></g>
<g transform="translate(784 499)"><use href="#c"/><text y="2">Fa0/11</text></g>
<g transform="translate(846 501)"><use href="#a"/><text y="2">Fa0</text></g>
<g transform="translate(858 497)"><use href="#c"/><text y="2">Fa0/11</text></g>
<g transform="translate(764 504)"><use href="#a"/><text y="2">Fa0</text></g>
<g transform="translate(789 511)"><use href="#a"/><text y="2">Fa0</text></g>
<g transform="translate(869 513)"><use href="#a"/><text y="2">Fa0</text></g>
<g transform="translate(816 503)"><rect class="lb" x="-20" y="-8" width="40" height="16"/><text y="-2">VLAN 10: 1-10</text><text y="6">VLAN 20: 11-24</text></g>
</g>
</svg>
